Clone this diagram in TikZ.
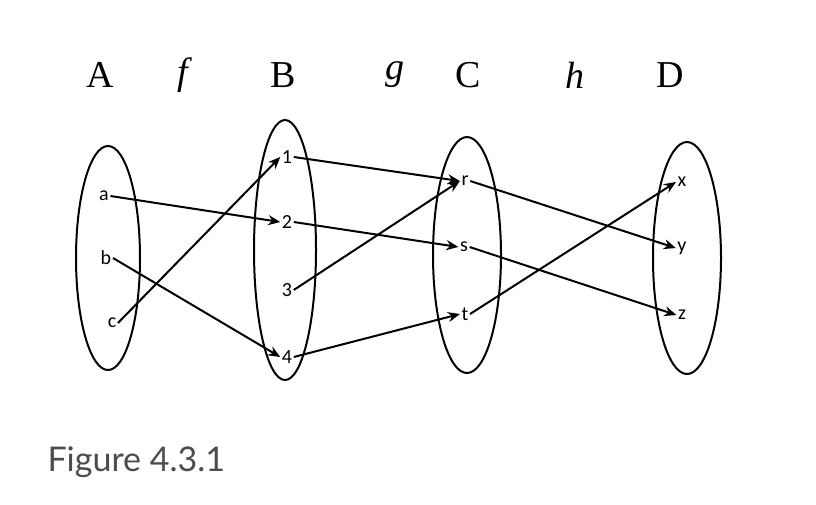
\documentclass[tikz,border=0pt]{standalone}
\usepackage{fontspec}
\setmainfont{Liberation Serif}
\newfontfamily\lab{Carlito}
\newfontfamily\capfont{Lato}
\usetikzlibrary{arrows.meta}
\begin{document}
\begin{tikzpicture}[x=1pt,y=-1pt,
  set/.style={draw,line width=2pt},
  elt/.style={font=\lab\fontsize{20}{20}\selectfont,inner sep=1.5pt},
  hdr/.style={font=\fontsize{38}{38}\selectfont},
  map/.style={-{Stealth[length=12pt,width=10pt]},line width=2pt}]
\useasboundingbox (0,0) rectangle (816,504);
\draw[set] (108,258) ellipse [x radius=32,y radius=112];
\draw[set] (285,250) ellipse [x radius=31,y radius=130];
\draw[set] (467,255) ellipse [x radius=34,y radius=118];
\draw[set] (687,258) ellipse [x radius=34,y radius=116];
\node[hdr] (hA) at (100,75) {A};
\node[hdr] (hf) at (185,75) {\textit{f}};
\node[hdr] (hB) at (283,75) {B};
\node[hdr] (hg) at (395,75) {\textit{g}};
\node[hdr] (hC) at (468,75) {C};
\node[hdr] (hh) at (575,75) {\textit{h}};
\node[hdr] (hD) at (670,75) {D};
\node[elt] (a) at (104,196) {a};
\node[elt] (b) at (106,258) {b};
\node[elt] (c) at (112,323) {c};
\node[elt] (n1) at (287,157) {1};
\node[elt] (n2) at (287,222) {2};
\node[elt] (n3) at (287,290) {3};
\node[elt] (n4) at (287,357) {4};
\node[elt] (r) at (465,181) {r};
\node[elt] (s) at (464,247) {s};
\node[elt] (t) at (465,314) {t};
\node[elt] (x) at (682,182) {x};
\node[elt] (y) at (682,248) {y};
\node[elt] (z) at (682,315) {z};
\draw[map] (a.east) -- (n2.west);
\draw[map] (b.east) -- (n4.west);
\draw[map] (c.east) -- (n1.west);
\draw[map] (n1.east) -- (r.west);
\draw[map] (n2.east) -- (s.west);
\draw[map] (n3.east) -- (r.west);
\draw[map] (n4.east) -- (t.west);
\draw[map] (r.east) -- (y.west);
\draw[map] (s.east) -- (z.west);
\draw[map] (t.east) -- (x.west);
\node[font=\capfont\fontsize{34}{34}\selectfont,text=black!70,anchor=west] (fig) at (44,462) {Figure 4.3.1};
\end{tikzpicture}
\end{document}
